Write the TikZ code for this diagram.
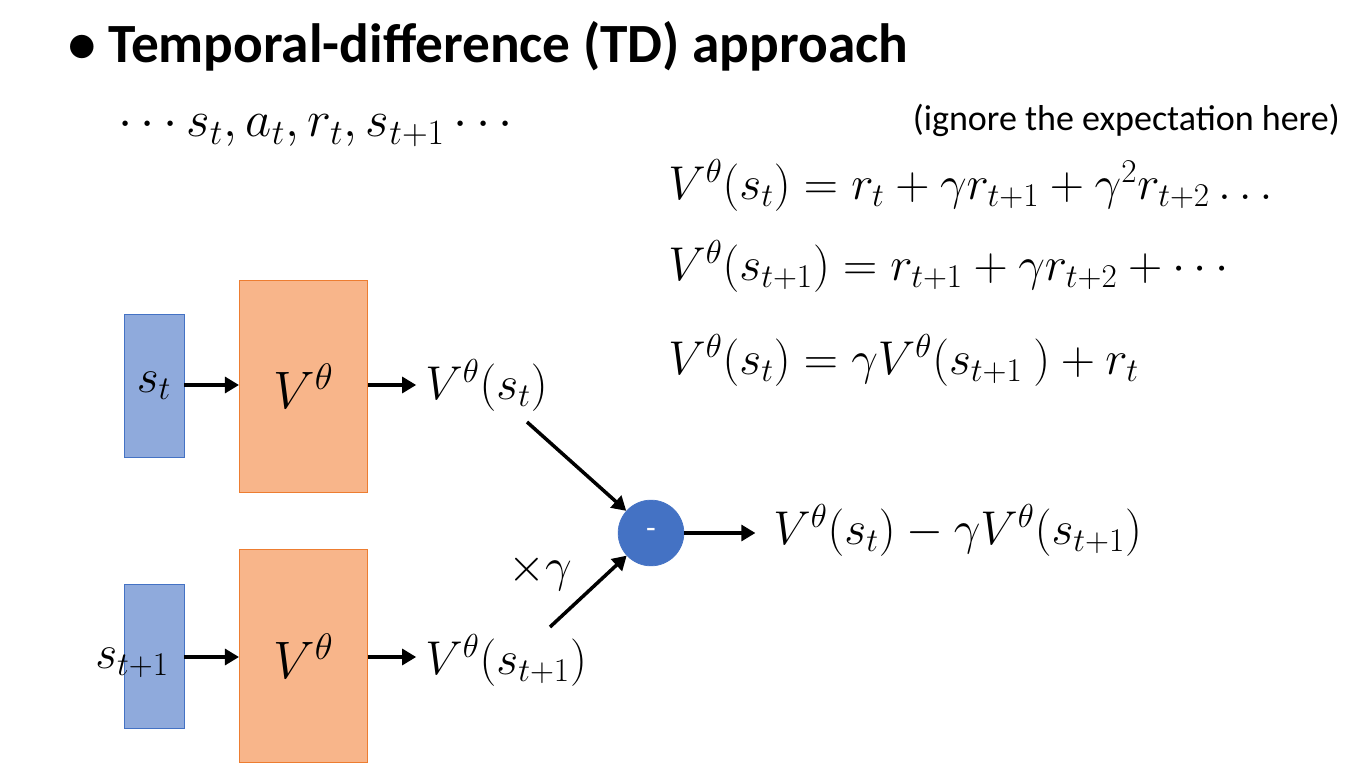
\documentclass[tikz,border=0pt]{standalone}
\usepackage{fix-cm}
\usepackage{fontspec}
\setmainfont{Carlito}
\usetikzlibrary{positioning, arrows.meta, calc}
\definecolor{stateblue}{HTML}{8FAADC}
\definecolor{stateedge}{HTML}{4472C4}
\definecolor{netorange}{HTML}{F8B58A}
\definecolor{netedge}{HTML}{ED7D31}
\tikzset{
    state/.style={draw = stateedge, fill = stateblue, minimum width = 34pt, minimum height = 81.6pt, inner sep = 0pt},
    net/.style={draw = netedge, fill = netorange, minimum width = 73pt, minimum height = 121pt, inner sep = 0pt, font = \fontsize{30}{34}\selectfont},
    txt/.style={inner sep = 0pt, font = \fontsize{27}{32}\selectfont},
    arr/.style={-{Triangle[length = 8pt, width = 9pt]}, line width = 2pt}
}

\begin{document}
\begin{tikzpicture}[x=0.02cm, y=-0.02cm]
\useasboundingbox (0,0) rectangle (1372,783);

% title
\node[anchor = west, inner sep = 0pt, font = \fontsize{31.5}{36}\selectfont\bfseries] (title) at (68,46) {\textbullet\ Temporal-difference (TD) approach};
\node[txt, anchor = west, font = \fontsize{29}{34}\selectfont] (seq) at (118,130) {$\cdots s_t, a_t, r_t, s_{t+1} \cdots$};
\node[anchor = east, inner sep = 0pt, font = \fontsize{20.5}{24}\selectfont] (note) at (1340,120) {(ignore the expectation here)};

% equations
\node[txt, anchor = west] (eqa) at (668,185) {$V^\theta(s_t) = r_t + \gamma r_{t+1} + \gamma^2 r_{t+2} \ldots$};
\node[txt, anchor = west] (eqb) at (668,266) {$V^\theta(s_{t+1}) = r_{t+1} + \gamma r_{t+2} + \cdots$};
\node[txt, anchor = west] (eqc) at (668,360) {$V^\theta(s_t) = \gamma V^\theta(s_{t+1}\ ) + r_t$};

% upper network
\node[state] (st) at (154,386) {};
\node[txt] at (st) {$s_t$};
\node[net] (neta) at (303.5,386.5) {$V^\theta$};
\node[txt, anchor = west] (outa) at (425,385) {$V^\theta(s_t)$};
\draw[arr] (st.east |- 0,385) -- (neta.west |- 0,385);
\draw[arr, shorten >=5pt] (neta.east |- 0,385) -- (outa.west);

% lower network
\node[state] (stn) at (154,656.5) {};
\node[txt, anchor = west] at (95,663) {$s_{t+1}$};
\node[net] (netb) at (303.5,656) {$V^\theta$};
\node[txt, anchor = west] (outb) at (425,660) {$V^\theta(s_{t+1})$};
\draw[arr] (stn.east |- 0,657) -- (netb.west |- 0,657);
\draw[arr, shorten >=5pt] (netb.east |- 0,657) -- (outb.west |- 0,657);

% difference
\node[circle, draw = stateedge, fill = stateedge, minimum size = 37.4pt, inner sep = 0pt, text = white, font = \fontsize{18}{20}\selectfont] (minus) at (651,533) {-};
\coordinate (fromA) at (527,422);
\coordinate (fromB) at (550,627);
\draw[arr] (fromA) -- (minus);
\draw[arr] (fromB) -- (minus);
\node[txt] (gamma) at (540,572) {$\times\gamma$};
\node[txt, anchor = west] (diff) at (773,530) {$V^\theta(s_t) - \gamma V^\theta(s_{t+1})$};
\draw[arr, shorten >=10pt] (minus.east) -- (diff.west |- minus.east);
\end{tikzpicture}
\end{document}
